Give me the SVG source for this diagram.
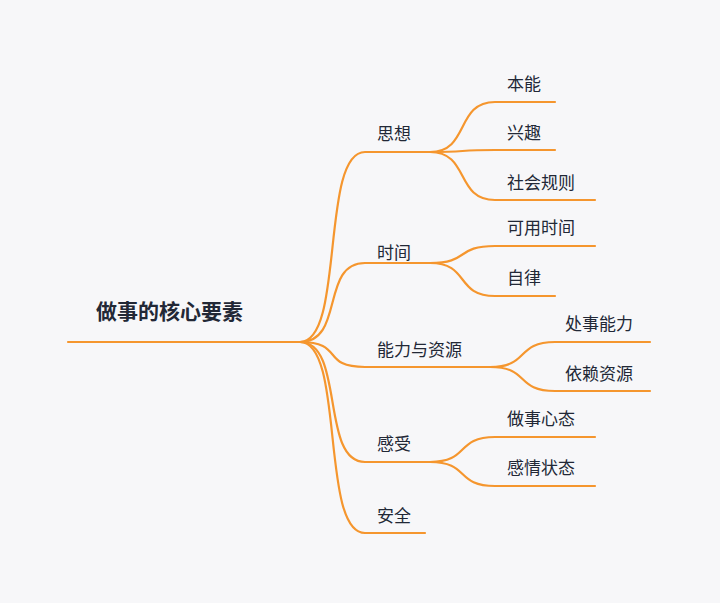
<svg xmlns="http://www.w3.org/2000/svg" width="720" height="603" viewBox="0 0 720 603">
<style>
.l{fill:none;stroke:#f5962e;stroke-width:2.2;stroke-linecap:round}
.t{font-family:"Noto Sans CJK SC",sans-serif;font-size:17px;fill:#222836}
.r{font-family:"Noto Sans CJK SC",sans-serif;font-size:21px;font-weight:bold;fill:#222836}
</style>
<rect width="720" height="603" fill="#f7f7f9"/>
<g id="connectors">
<path class="l" d="M68,342 H300"/>
<path class="l" d="M300,342 C345,342 320,152 365,152 H430"/>
<path class="l" d="M300,342 C345,342 320,263 365,263 H430"/>
<path class="l" d="M300,342 C345,342 320,367 365,367 H490"/>
<path class="l" d="M300,342 C345,342 320,462 365,462 H430"/>
<path class="l" d="M300,342 C345,342 320,533 365,533 H425"/>
<path class="l" d="M430,152 C470,152 455,102 495,102 H555"/>
<path class="l" d="M430,152 C470,152 455,150 495,150 H555"/>
<path class="l" d="M430,152 C470,152 455,200 495,200 H595"/>
<path class="l" d="M430,263 C470,263 455,246 495,246 H595"/>
<path class="l" d="M430,263 C470,263 455,296 495,296 H555"/>
<path class="l" d="M490,367 C530,367 515,342 555,342 H650"/>
<path class="l" d="M490,367 C530,367 515,391 555,391 H650"/>
<path class="l" d="M430,462 C470,462 455,437 495,437 H595"/>
<path class="l" d="M430,462 C470,462 455,486 495,486 H595"/>
</g>
<g id="root"><text class="r" x="96" y="319">做事的核心要素</text></g>
<g id="n1"><text class="t" x="377" y="140">思想</text></g>
<g id="n2"><text class="t" x="377" y="259">时间</text></g>
<g id="n3"><text class="t" x="377" y="356">能力与资源</text></g>
<g id="n4"><text class="t" x="377" y="450">感受</text></g>
<g id="n5"><text class="t" x="377" y="522">安全</text></g>
<g id="n11"><text class="t" x="507" y="90">本能</text></g>
<g id="n12"><text class="t" x="507" y="139">兴趣</text></g>
<g id="n13"><text class="t" x="507" y="189">社会规则</text></g>
<g id="n21"><text class="t" x="507" y="234">可用时间</text></g>
<g id="n22"><text class="t" x="507" y="284">自律</text></g>
<g id="n31"><text class="t" x="565" y="330">处事能力</text></g>
<g id="n32"><text class="t" x="565" y="380">依赖资源</text></g>
<g id="n41"><text class="t" x="507" y="425">做事心态</text></g>
<g id="n42"><text class="t" x="507" y="474">感情状态</text></g>
</svg>
